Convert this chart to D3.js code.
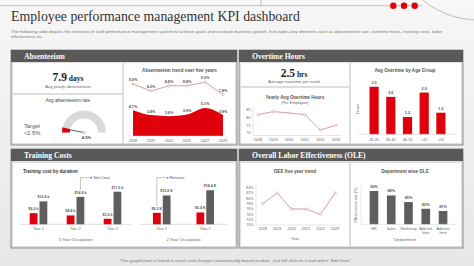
<!DOCTYPE html>
<html>
<head>
<meta charset="utf-8">
<script src="https://cdn.jsdelivr.net/npm/d3@7"></script>
<style>
  body { margin: 0; background: #f2f2f2; }
  svg { display: block; }
  text { font-family: "Liberation Sans", Arial, sans-serif; }
  .serif { font-family: "Liberation Serif", "Times New Roman", serif; }
</style>
</head>
<body>
<script>
// ---- data ----
const years = ['2018', '2019', '2020', '2021', '2022', '2023'];
const absTotal = [9.0, 8.2, 8.8, 8.8, 9.2, 7.8];
const absRate = [4.7, 3.8, 3.6, 3.9, 5.1, 3.8];
const gaugeValue = 4.5;
const gaugeMax = 60;

const otHours = [82, 84, 83, 82, 72, 75];
const otTicks = [70, 75, 80, 85];
const ageGroups = ['26-35', '36-45', '46-54', '<25', '>55'];
const ageHours = [3.3, 2.6, 1.2, 2.9, 1.5];

const threeYrLabels = ['Year 1', 'Year 2', 'Year 3'];
const threeYrReturns = [6.0, 4.8, 3.0];
const threeYrNet = [12.4, 14.8, 17.6];
const twoYrLabels = ['Year 1', 'Year 2'];
const twoYrReturns = [6.2, 6.4];
const twoYrNet = [15.6, 18.4];

const oleTrend = [78, 82, 76, 76, 74, 82];
const oleTicks = [70, 72, 74, 76, 78, 80, 82, 84];
const depts = ['HR', 'Sales', 'Marketing', 'Add text here', 'Add text here'];
const deptOle = [90, 88, 85, 82, 81];

const RED = '#e0000b', GREY = '#5e5e5e', LINE = '#c8868e', TXT = '#444';

const svg = d3.select('body').append('svg').attr('width', 474).attr('height', 266);

// background
const grad = svg.append('defs').append('linearGradient').attr('id', 'bg')
  .attr('x1', 0).attr('y1', 0).attr('x2', 0).attr('y2', 1);
grad.append('stop').attr('offset', 0).attr('stop-color', '#f7f7f7');
grad.append('stop').attr('offset', 1).attr('stop-color', '#e7e7e7');
svg.append('rect').attr('width', 474).attr('height', 266).attr('fill', 'url(#bg)');

// top decoration
svg.append('line').attr('x1', 0).attr('x2', 422).attr('y1', 5.7).attr('y2', 5.7).attr('stroke', '#9a9a9a').attr('stroke-width', 0.6);
svg.append('line').attr('x1', 261).attr('x2', 261).attr('y1', 0).attr('y2', 5.7).attr('stroke', '#9a9a9a').attr('stroke-width', 0.6);
svg.append('circle').attr('cx', 478).attr('cy', -66).attr('r', 86).attr('fill', 'none').attr('stroke', '#9a9a9a').attr('stroke-width', 0.6);
[393.3, 404, 414.7].forEach(x => svg.append('circle').attr('cx', x).attr('cy', 5.7).attr('r', 3.2).attr('fill', '#e00000'));

// title
svg.append('text').attr('class', 'serif').attr('x', 11).attr('y', 21)
  .attr('font-size', 13.8).attr('fill', '#333')
  .text('Employee performance management KPI dashboard');
svg.append('text').attr('x', 11).attr('y', 32.5).attr('font-size', 4.2).attr('fill', '#777')
  .attr('textLength', 431).attr('lengthAdjust', 'spacingAndGlyphs')
  .text('The following slide depicts the overview of staff performance management system to achieve goals and evaluate business growth. It includes key elements such as absenteeism rate, overtime hours, training costs, labor');
svg.append('text').attr('x', 11).attr('y', 37.5).attr('font-size', 4.2).attr('fill', '#777')
  .text('effectiveness etc.');

// footer
svg.append('text').attr('x', 236).attr('y', 262).attr('text-anchor', 'middle')
  .attr('font-size', 4.2).attr('fill', '#777')
  .attr('textLength', 232).attr('lengthAdjust', 'spacingAndGlyphs')
  .text('This graph/chart is linked to excel, and changes automatically based on data. Just left click on it and select "Edit Data".');

// ---- panels ----
function panel(x, y, w, h, title) {
  svg.append('rect').attr('x', x).attr('y', y).attr('width', w).attr('height', h)
    .attr('fill', '#dedede').attr('stroke', '#7a7a7a').attr('stroke-width', 0.8);
  svg.append('rect').attr('x', x).attr('y', y).attr('width', w).attr('height', 12).attr('fill', '#595959');
  svg.append('text').attr('class', 'serif').attr('x', x + 13).attr('y', y + 8.6)
    .attr('font-size', 7.6).attr('font-weight', 'bold').attr('fill', '#fff').text(title);
}
function box(x, y, w, h) {
  svg.append('rect').attr('x', x).attr('y', y).attr('width', w).attr('height', h).attr('fill', '#fff');
}
function label(x, y, t, size, opts = {}) {
  return svg.append('text').attr('x', x).attr('y', y).attr('font-size', size)
    .attr('text-anchor', opts.anchor || 'middle').attr('fill', opts.fill || TXT)
    .attr('font-weight', opts.weight || null).text(t);
}

panel(11, 50, 226, 95, 'Absenteeism');
panel(239, 50, 224, 95, 'Overtime Hours');
panel(11, 149, 226, 99, 'Training Costs');
panel(239, 149, 224, 99, 'Overall Labor Effectiveness (OLE)');

box(13, 63, 109, 30); box(13, 95, 109, 48); box(124, 63, 111, 80);
box(241, 63, 108, 23); box(241, 88, 108, 55); box(351, 63, 110, 80);
box(13, 163, 222, 83);
box(241, 163, 108, 83); box(351, 163, 110, 83);

// ---- Absenteeism KPI ----
const kpi1 = svg.append('text').attr('class', 'serif').attr('x', 68).attr('y', 80.5)
  .attr('text-anchor', 'middle').attr('fill', '#222').attr('font-weight', 'bold');
kpi1.append('tspan').attr('font-size', 11.5).text('7.9');
kpi1.append('tspan').attr('font-size', 7.5).text(' days');
label(68, 87.5, 'Avg yearly absenteeism', 4.3, { fill: '#666' });

// gauge
label(68, 102, 'Avg absenteeism rate', 4.6);
label(32, 128, 'Target', 5.8, { fill: '#555' });
label(32, 135, '<2.5%', 5.8, { fill: '#555' });
const gauge = svg.append('g').attr('transform', 'translate(84,132.5)');
const arc = d3.arc().innerRadius(14).outerRadius(22);
const gScale = d3.scaleLinear().domain([0, gaugeMax]).range([-Math.PI / 2, Math.PI / 2]);
gauge.append('path').attr('d', arc({ startAngle: gScale(0), endAngle: gScale(gaugeMax) })).attr('fill', '#d9d9d9');
gauge.append('path').attr('d', arc({ startAngle: gScale(0), endAngle: gScale(gaugeValue) })).attr('fill', RED);
const na = gScale(gaugeValue) - Math.PI / 2 - 0.05;
gauge.append('line').attr('x1', 0).attr('y1', 0)
  .attr('x2', 14 * Math.cos(na)).attr('y2', 14 * Math.sin(na))
  .attr('stroke', '#333').attr('stroke-width', 0.8);
gauge.append('circle').attr('r', 1.3).attr('fill', '#fff').attr('stroke', '#999').attr('stroke-width', 0.5);
label(86.5, 139, gaugeValue + '%', 4.2, { weight: 'bold' });

// absenteeism trend
label(179.5, 72, 'Absenteeism trend over five years', 4.6, { weight: 'bold', fill: '#555' });
const ax = d3.scalePoint().domain(years).range([133, 223]);
const ayArea = d3.scaleLinear().domain([0, 6]).range([136, 103]);
const ayLine = d3.scaleLinear().domain([7, 10]).range([101.5, 75.25]);
svg.append('path').datum(absRate)
  .attr('d', d3.area().x((d, i) => ax(years[i])).y0(ayArea(0)).y1(d => ayArea(d)).curve(d3.curveMonotoneX))
  .attr('fill', RED);
svg.append('line').attr('x1', 128).attr('x2', 228).attr('y1', 136).attr('y2', 136).attr('stroke', '#ccc').attr('stroke-width', 0.5);
svg.append('path').datum(absTotal)
  .attr('d', d3.line().x((d, i) => ax(years[i])).y(d => ayLine(d)))
  .attr('fill', 'none').attr('stroke', LINE).attr('stroke-width', 0.8);
svg.selectAll('.absDot').data(absTotal).join('circle')
  .attr('cx', (d, i) => ax(years[i])).attr('cy', d => ayLine(d)).attr('r', 1.2)
  .attr('fill', '#fff').attr('stroke', LINE).attr('stroke-width', 0.5);
absTotal.forEach((d, i) => label(ax(years[i]), ayLine(d) - 3, d.toFixed(1) + '%', 3.8, { weight: 'bold', fill: '#555' }));
absRate.forEach((d, i) => label(ax(years[i]), ayArea(d) - 2.5, d.toFixed(1) + '%', 3.8, { weight: 'bold', fill: '#555' }));
years.forEach(y => label(ax(y), 141.5, y, 3.8, { fill: '#666' }));

// ---- Overtime ----
const kpi2 = svg.append('text').attr('class', 'serif').attr('x', 294).attr('y', 76.5)
  .attr('text-anchor', 'middle').attr('fill', '#222').attr('font-weight', 'bold');
kpi2.append('tspan').attr('font-size', 11.5).text('2.5');
kpi2.append('tspan').attr('font-size', 7.5).text(' hrs');
label(294, 83, 'Average  overtime  per week', 4.3, { fill: '#666' });

label(295, 98.5, 'Yearly Avg Overtime Hours', 4.6, { weight: 'bold', fill: '#555' });
label(295, 103.5, '(Per Employee)', 4, { fill: '#666' });
const ox = d3.scalePoint().domain(years).range([258, 336]);
const oy = d3.scaleLinear().domain([70, 85]).range([133, 110]);
svg.append('line').attr('x1', 253).attr('x2', 253).attr('y1', 108).attr('y2', 135.5).attr('stroke', '#ccc').attr('stroke-width', 0.5);
svg.append('line').attr('x1', 253).attr('x2', 342).attr('y1', 135.5).attr('y2', 135.5).attr('stroke', '#ccc').attr('stroke-width', 0.5);
otTicks.forEach(t => label(250.5, oy(t) + 1.3, t, 3.8, { anchor: 'end', fill: '#666' }));
svg.append('path').datum(otHours)
  .attr('d', d3.line().x((d, i) => ox(years[i])).y(d => oy(d)))
  .attr('fill', 'none').attr('stroke', LINE).attr('stroke-width', 0.8);
svg.selectAll('.otDot').data(otHours).join('circle')
  .attr('cx', (d, i) => ox(years[i])).attr('cy', d => oy(d)).attr('r', 1.2)
  .attr('fill', '#fff').attr('stroke', LINE).attr('stroke-width', 0.5);
years.forEach(y => label(ox(y), 140.5, y, 3.8, { fill: '#666' }));

// age group bars
label(405, 72, 'Avg Overtime by Age Group', 4.6, { weight: 'bold', fill: '#555' });
const bx = d3.scaleBand().domain(ageGroups).range([362, 453]).padding(0.45);
const by = d3.scaleLinear().domain([0, 3.5]).range([134.3, 83.9]);
svg.selectAll('.ageBar').data(ageHours).join('rect')
  .attr('x', (d, i) => bx(ageGroups[i])).attr('width', bx.bandwidth())
  .attr('y', d => by(d)).attr('height', d => by(0) - by(d)).attr('fill', RED);
ageHours.forEach((d, i) => label(bx(ageGroups[i]) + bx.bandwidth() / 2, by(d) - 3, d.toFixed(1), 3.8, { weight: 'bold', fill: '#555' }));
ageGroups.forEach(g => label(bx(g) + bx.bandwidth() / 2, 140.5, g, 3.8, { fill: '#666' }));
svg.append('line').attr('x1', 358).attr('x2', 457).attr('y1', 134.3).attr('y2', 134.3).attr('stroke', '#ccc').attr('stroke-width', 0.5);
label(0, 0, 'Hours', 4, { fill: '#666' }).attr('transform', 'translate(359,109) rotate(-90)');

// ---- Training ----
label(23, 173, 'Training cost by duration', 4.6, { anchor: 'start', weight: 'bold', fill: '#333' });
const ty = d3.scaleLinear().domain([0, 20]).range([224.3, 187.3]);
function trainChart(cats, returns, net, x0, x1, unit, name) {
  const x = d3.scaleBand().domain(cats).range([x0, x1]);
  const bw = 7.8;
  const g = svg.append('g');
  g.append('line').attr('x1', x0).attr('x2', x1).attr('y1', ty(0)).attr('y2', ty(0)).attr('stroke', '#bbb').attr('stroke-width', 0.5);
  g.selectAll('.r').data(returns).join('rect')
    .attr('x', (d, i) => x(cats[i]) + x.bandwidth() / 2 - bw - 1).attr('width', bw)
    .attr('y', d => ty(d)).attr('height', d => ty(0) - ty(d)).attr('fill', RED);
  g.selectAll('.n').data(net).join('rect')
    .attr('x', (d, i) => x(cats[i]) + x.bandwidth() / 2 + 1).attr('width', bw)
    .attr('y', d => ty(d)).attr('height', d => ty(0) - ty(d)).attr('fill', GREY);
  returns.forEach((d, i) => label(x(cats[i]) + x.bandwidth() / 2 - bw / 2 - 1, ty(d) - 3, '$' + d.toFixed(1) + ' ' + unit, 3.6, { weight: 'bold', fill: '#555' }));
  net.forEach((d, i) => label(x(cats[i]) + x.bandwidth() / 2 + bw / 2 + 1, ty(d) - 3, '$' + d.toFixed(1) + ' ' + unit, 3.6, { weight: 'bold', fill: '#555' }));
  cats.forEach(c => label(x(c) + x.bandwidth() / 2, 230, c, 3.8, { fill: '#666' }));
  label((x0 + x1) / 2, 240.5, name, 4.2, { fill: '#666' });
  return { x, bw };
}
const t1 = trainChart(threeYrLabels, threeYrReturns, threeYrNet, 20, 131, 'k', '3 Year Occupation');
const t2 = trainChart(twoYrLabels, twoYrReturns, twoYrNet, 140, 227, 'K', '2 Year Occupation');

// callouts
function callout(xs, yTop, text) {
  svg.append('path').attr('d', `M${xs},${yTop}V177.7H${xs + 11}`)
    .attr('fill', 'none').attr('stroke', '#888').attr('stroke-width', 0.5);
  svg.append('circle').attr('cx', xs + 11).attr('cy', 177.7).attr('r', 0.8).attr('fill', '#555');
  label(xs + 13, 179.2, text, 4.2, { anchor: 'start', fill: '#555' });
}
const netX = t1.x('Year 2') + t1.x.bandwidth() / 2 + t1.bw / 2 + 1;
callout(netX, ty(threeYrNet[1]) - 7, 'Net Cost');
const retX = t2.x('Year 1') + t2.x.bandwidth() / 2 - t2.bw / 2 - 1;
callout(retX, ty(twoYrReturns[0]) - 7, 'Returns');

// ---- OLE ----
label(295, 173, 'OEE  five year trend', 4.6, { weight: 'bold', fill: '#555' });
const ex = d3.scalePoint().domain(years).range([262.7, 335]);
const ey = d3.scaleLinear().domain([70, 84]).range([225, 187.7]);
svg.append('line').attr('x1', 256).attr('x2', 256).attr('y1', 186).attr('y2', 225).attr('stroke', '#ccc').attr('stroke-width', 0.5);
svg.append('line').attr('x1', 256).attr('x2', 342).attr('y1', 225).attr('y2', 225).attr('stroke', '#ccc').attr('stroke-width', 0.5);
oleTicks.forEach(t => label(253.5, ey(t) + 1.3, t + '%', 3.6, { anchor: 'end', fill: '#666' }));
svg.append('path').datum(oleTrend)
  .attr('d', d3.line().x((d, i) => ex(years[i])).y(d => ey(d)))
  .attr('fill', 'none').attr('stroke', LINE).attr('stroke-width', 0.8);
svg.selectAll('.oleDot').data(oleTrend).join('circle')
  .attr('cx', (d, i) => ex(years[i])).attr('cy', d => ey(d)).attr('r', 1.2)
  .attr('fill', '#fff').attr('stroke', LINE).attr('stroke-width', 0.5);
years.forEach(y => label(ex(y), 230, y, 3.8, { fill: '#666' }));
label(295, 239.5, 'Year', 4, { fill: '#666' });

label(405, 173, 'Department wise OLE', 4.6, { weight: 'bold', fill: '#555' });
const dx = d3.scaleBand().domain(d3.range(depts.length)).range([361, 456]).padding(0.5);
const dy = d3.scaleLinear().domain([75, 90]).range([224.3, 191]);
svg.selectAll('.deptBar').data(deptOle).join('rect')
  .attr('x', (d, i) => dx(i)).attr('width', dx.bandwidth())
  .attr('y', d => dy(d)).attr('height', d => dy(75) - dy(d)).attr('fill', GREY);
deptOle.forEach((d, i) => label(dx(i) + dx.bandwidth() / 2, dy(d) - 3, d + '%', 3.8, { weight: 'bold', fill: '#555' }));
svg.append('line').attr('x1', 361).attr('x2', 361).attr('y1', 185).attr('y2', 224.3).attr('stroke', '#ccc').attr('stroke-width', 0.5);
svg.append('line').attr('x1', 361).attr('x2', 457).attr('y1', 224.3).attr('y2', 224.3).attr('stroke', '#ccc').attr('stroke-width', 0.5);
depts.forEach((d, i) => {
  const cx = dx(i) + dx.bandwidth() / 2;
  const words = d.split(' ');
  if (words.length > 2) {
    label(cx, 229.5, words.slice(0, 2).join(' '), 3.6, { fill: '#666' });
    label(cx, 233.5, words.slice(2).join(' '), 3.6, { fill: '#666' });
  } else {
    label(cx, 229.5, d, 3.6, { fill: '#666' });
  }
});
label(405, 240.5, 'Department', 4.2, { fill: '#666' });
label(0, 0, 'Effectiveness rate (%)', 3.6, { fill: '#666' }).attr('transform', 'translate(356.5,205) rotate(-90)');
</script>
</body>
</html>
